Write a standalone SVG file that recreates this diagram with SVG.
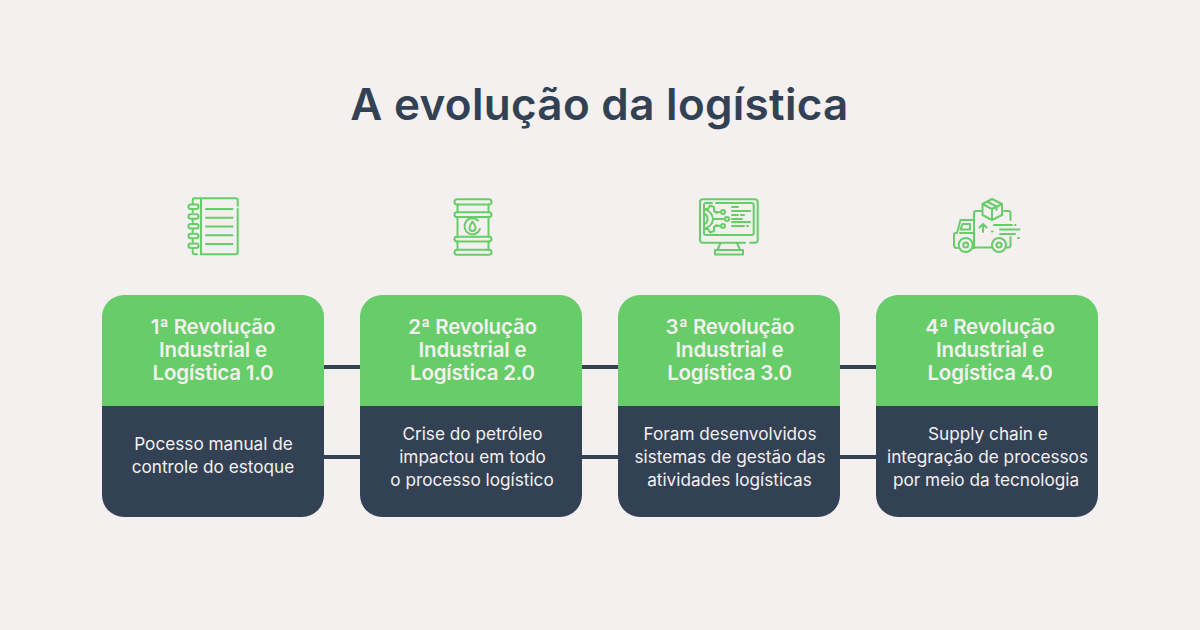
<svg xmlns="http://www.w3.org/2000/svg" width="1200" height="630" viewBox="0 0 1200 630">
<defs><style>
.t{font-family:"Inter","Noto Sans","Liberation Sans",sans-serif;text-anchor:middle}
.title{font-size:44px;font-weight:600;fill:#334155;letter-spacing:.3px}
.h{font-size:20.5px;font-weight:600;fill:#f4f0ef;letter-spacing:-.2px}
.b{font-size:17.2px;font-weight:400;fill:#f4f0ef}
.g{fill:#66cd69}.d{fill:#334155}
.i{fill:none;stroke:#66cd69;stroke-width:2;stroke-linecap:round;stroke-linejoin:round}
.c{stroke:#334155;stroke-width:4;fill:none}
</style>
<path id="top" d="M0 111V22A22 22 0 0 1 22 0H200A22 22 0 0 1 222 22V111Z"/>
<path id="bot" d="M0 111V200A22 22 0 0 0 22 222H200A22 22 0 0 0 222 200V111Z"/>
</defs>
<rect width="1200" height="630" fill="#f4f0ef"/>
<text class="t title" x="599.500" y="120">A evolução da logística</text>
<g id="connectors" class="c">
<path d="M324 367H360M324 457H360M582 367H618M582 457H618M840 367H876M840 457H876"/>
</g>
<g id="icon-1" class="i">
<path d="M192.700 204V200.300Q192.700 198.300 194.700 198.300H235.700Q237.700 198.300 237.700 200.300V206M237.700 209V252.300Q237.700 254.300 235.700 254.300H201M197 254.300H195Q192.700 254.300 192.700 252.300V250M192.700 209V212M192.700 219V222M192.700 229V232M192.700 239V242M201 198.300V254.300"/>
<rect x="188.500" y="204.500" width="10" height="4.500" rx="2.200"/><rect x="188.500" y="214.300" width="10" height="4.500" rx="2.200"/><rect x="188.500" y="224" width="10" height="4.500" rx="2.200"/><rect x="188.500" y="233.700" width="10" height="4.500" rx="2.200"/><rect x="188.500" y="243.500" width="10" height="4.500" rx="2.200"/>
<path d="M206 209H232.500M206 217.700H232.500M206 226.500H232.500M206 235.200H232.500M206 244H232.500"/>
</g>
<g id="card-1"><use href="#top" x="102" y="295" class="g"/><use href="#bot" x="102" y="295" class="d"/>
<text class="t h" x="213" y="334">1ª Revolução</text><text class="t h" x="213" y="357">Industrial e</text><text class="t h" x="213" y="380">Logística 1.0</text>
<text class="t b" x="213.500" y="450">Pocesso manual de</text><text class="t b" x="213" y="473">controle do estoque</text></g>
<g id="icon-2" class="i">
<rect x="454.500" y="199.300" width="37" height="5.200" rx="2.500"/><rect x="454.500" y="212.300" width="37" height="4.800" rx="2.400"/><rect x="454.500" y="236.700" width="37" height="4.800" rx="2.400"/><rect x="454.500" y="249.700" width="37" height="5" rx="2.500"/>
<path d="M457.500 204.500V212.300M488.500 204.500V212.300M457.500 217V236.700M488.500 217V236.700M457.500 241.500V249.700M488.500 241.500V249.700"/>
<path d="M478 220.500A8 8 0 1 0 480 229"/>
<path d="M472.500 221.500C470.500 224.500 469.500 226 469.500 228A3 3 0 0 0 475.500 228C475.500 226 474.500 224.500 472.500 221.500Z"/>
</g>
<g id="card-2"><use href="#top" x="360" y="295" class="g"/><use href="#bot" x="360" y="295" class="d"/>
<text class="t h" x="472.500" y="334">2ª Revolução</text><text class="t h" x="472.500" y="357">Industrial e</text><text class="t h" x="472.500" y="380">Logística 2.0</text>
<text class="t b" x="472.500" y="440">Crise do petróleo</text><text class="t b" x="472.500" y="463">impactou em todo</text><text class="t b" x="472" y="486">o processo logístico</text></g>
<g id="icon-3" class="i">
<path d="M750 242.700H755Q757.700 242.700 757.700 240V202Q757.700 199.300 755 199.300H702.700Q700 199.300 700 202V240Q700 242.700 702.700 242.700H745"/>
<path d="M716 203H751.500Q753.700 203 753.700 205V233Q753.700 235 751.500 235H706Q704 235 704 233V205Q704 203 706 203H712"/>
<path d="M720.500 243L717.500 250M737 243L740 250M715 250H743V254.500H715Z"/>
<path d="M704 209H708L710 205.500L714 207V211L717 212.500M704 229H708L710 232.500L714 231V227L717 225.500M704 213.500A6 6 0 0 1 704 224.500M704 209.500A10 10 0 0 1 713 219A10 10 0 0 1 704 228.500"/>
<circle cx="723" cy="212" r="2"/><circle cx="727" cy="219" r="2"/><circle cx="723" cy="226" r="2"/>
<path d="M713 219H725M716 212.500L721 212M716 225.500L721 226M732 207H738M732 211H750M732 215H738M741 215H744M732 219H742M732 222H750M732 226H744M747 226H748"/>
</g>
<g id="card-3"><use href="#top" x="618" y="295" class="g"/><use href="#bot" x="618" y="295" class="d"/>
<text class="t h" x="730" y="334">3ª Revolução</text><text class="t h" x="729.500" y="357">Industrial e</text><text class="t h" x="729.500" y="380">Logística 3.0</text>
<text class="t b" x="730" y="440">Foram desenvolvidos</text><text class="t b" x="730" y="463">sistemas de gestão das</text><text class="t b" x="729.500" y="486">atividades logísticas</text></g>
<g id="icon-4" class="i">
<path d="M992 199L1002 204V215L992 220L982.500 215V204ZM982.500 204L992 209L1002 204M992 209V220M987 201.500L996.500 206.500V210"/>
<path d="M982 211H976Q974 211 974 213V247M1004 211H1008.500Q1010.500 211 1010.500 213V220M1010.500 237V245Q1010.500 247.500 1008 247.500H1006M974 247.500H992"/>
<path d="M974 220H960.500L957 233H955.500Q954 233 954 235V245Q954 248 957 248H958M973 248H974M960 233H974M962.500 224H970V229.500H960.500Z"/>
<circle cx="965.700" cy="245" r="7"/><circle cx="965.700" cy="245" r="2.500"/><circle cx="999" cy="245" r="7"/><circle cx="999" cy="245" r="2.500"/>
<path d="M983 232V224M979.500 227.500L983 224L986.500 227.500M992 231.500H992.500M994 225H1012M1015 225H1015.500M1000 229.500H1019.500M1000 234H1015M1018 238H1019"/>
</g>
<g id="card-4"><use href="#top" x="876" y="295" class="g"/><use href="#bot" x="876" y="295" class="d"/>
<text class="t h" x="990" y="334">4ª Revolução</text><text class="t h" x="990" y="357">Industrial e</text><text class="t h" x="990" y="380">Logística 4.0</text>
<text class="t b" x="988" y="440">Supply chain e</text><text class="t b" x="987.500" y="463">integração de processos</text><text class="t b" x="986" y="486">por meio da tecnologia</text></g>
</svg>
